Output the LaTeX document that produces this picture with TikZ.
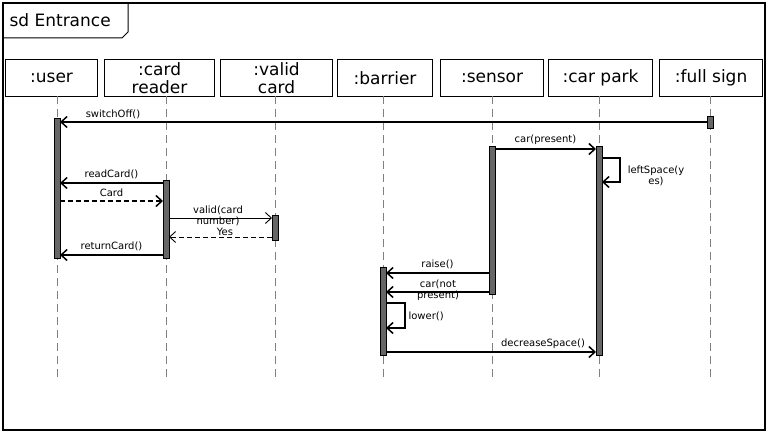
\documentclass[tikz,border=0pt]{standalone}
\usepackage{fontspec}
\setmainfont{DejaVu Sans}
\usetikzlibrary{arrows.meta}
\begin{document}
\begin{tikzpicture}[x=1pt,y=-1pt,
  head/.style={draw,line width=1.1pt,minimum height=37pt,inner sep=0pt,font=\fontsize{17}{18}\selectfont,align=center,anchor=north west},
  life/.style={draw=gray,dash pattern=on 8pt off 5pt,line width=0.9pt},
  act/.style={draw=black,fill=gray!80!black,line width=0.6pt},
  msg/.style={-{Straight Barb[length=6pt,width=11pt]},line width=1.5pt},
  ret/.style={msg,dash pattern=on 5pt off 3pt},
  lbl/.style={font=\fontsize{10}{10.5}\selectfont,align=center}]
\useasboundingbox (0,0) rectangle (768,433);
\draw[line width=1.6pt] (3,3) rectangle (765,430);
\draw[line width=1pt] (3,38) -- (122,38) -- (128,32) -- (128,3);
\node[anchor=west,font=\fontsize{17}{17}\selectfont] (title) at (6,20) {sd Entrance};
\foreach \n/\a/\b/\t in {user/5/97/:user, cr/104/214/{:card\\reader}, vc/220/332/{:valid\\card}, ba/337/432/:barrier, se/440/543/:sensor, cp/548/652/:car park, fs/659/762/:full sign}{
  \node[head,minimum width={(\b-\a)*1pt}] (h\n) at (\a,59) {\t};
}
\foreach \n/\x in {user/57,cr/166,vc/275,ba/383,se/492,cp/599,fs/710}{
  \coordinate (e\n) at (\x,380);
  \draw[life] (\x,96) -- (e\n);
}
\draw[act] (54,118) rectangle (60,258);
\draw[act] (163,180) rectangle (169,258);
\draw[act] (272,215) rectangle (278,240);
\draw[act] (489,146) rectangle (495,294);
\draw[act] (596,146) rectangle (602,355);
\draw[act] (380,267) rectangle (386,355);
\draw[act] (707,116) rectangle (713,128);
% messages
\coordinate (a1) at (707,122); \coordinate (b1) at (60,122);
\draw[msg] (a1) -- (b1);
\node[lbl] (l1) at (113,114) {switchOff()};
\coordinate (a2) at (495,149); \coordinate (b2) at (596,149);
\draw[msg] (a2) -- node[lbl,above] {car(present)} (b2);
\coordinate (a3) at (602,158); \coordinate (b3) at (602,182);
\draw[msg] (a3) -- (620,158) -- (620,182) -- (b3);
\node[lbl] (l3) at (656,176) {leftSpace(y\\es)};
\coordinate (a4) at (163,183); \coordinate (b4) at (60,183);
\draw[msg] (a4) -- node[lbl,above] {readCard()} (b4);
\coordinate (a5) at (60,201); \coordinate (b5) at (163,201);
\draw[ret] (a5) -- node[lbl,above] {Card} (b5);
\coordinate (a6) at (169,218); \coordinate (b6) at (272,218);
\draw[msg,line width=0.9pt] (a6) -- (b6);
\node[lbl] (l6) at (218,216) {valid(card\\number)};
\coordinate (a7) at (272,237); \coordinate (b7) at (169,237);
\draw[ret,line width=0.9pt] (a7) -- (b7);
\node[lbl] (l7) at (225,232) {Yes};
\coordinate (a8) at (163,255); \coordinate (b8) at (60,255);
\draw[msg] (a8) -- node[lbl,above] {returnCard()} (b8);
\coordinate (a9) at (489,273); \coordinate (b9) at (386,273);
\draw[msg] (a9) -- node[lbl,above] {raise()} (b9);
\coordinate (a10) at (489,292); \coordinate (b10) at (386,292);
\draw[msg] (a10) -- (b10);
\node[lbl] (l10) at (438,290) {car(not\\present)};
\coordinate (a11) at (386,303); \coordinate (b11) at (386,328);
\draw[msg] (a11) -- (405,303) -- (405,328) -- (b11);
\node[lbl,anchor=west] (l11) at (405,316) {lower()};
\coordinate (a12) at (386,352); \coordinate (b12) at (596,352);
\draw[msg] (a12) -- (b12);
\node[lbl] (l12) at (543,344) {decreaseSpace()};
\end{tikzpicture}
\end{document}
